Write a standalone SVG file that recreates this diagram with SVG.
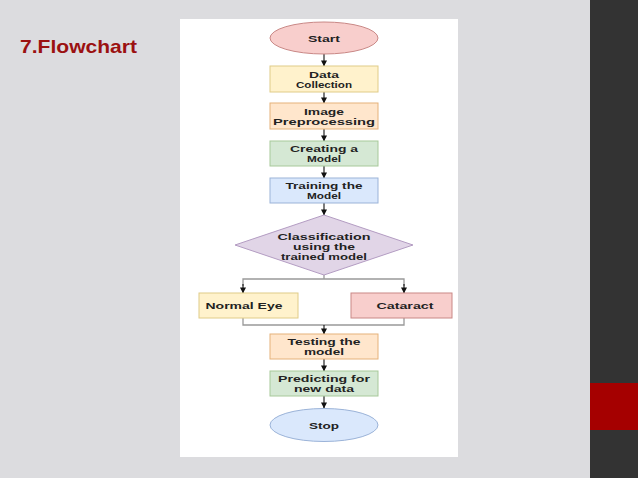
<svg xmlns="http://www.w3.org/2000/svg" width="638" height="478" viewBox="0 0 638 478">
<defs>
<marker id="ah" viewBox="0 0 8 8" refX="7.5" refY="4" markerWidth="6" markerHeight="6" markerUnits="userSpaceOnUse" orient="auto">
<path d="M0,0 L8,4 L0,8 z" fill="#111"/>
</marker>
</defs>
<style>
.t{font-family:"Liberation Sans",Arial,sans-serif;font-weight:bold;font-size:9.5px;fill:#222;text-anchor:middle}
.c{fill:none;stroke:#111;stroke-width:1.1}
.g{fill:none;stroke:#999;stroke-width:1.3}
</style>
<rect x="0" y="0" width="638" height="478" fill="#dcdcdf"/>
<rect x="590" y="0" width="48" height="478" fill="#333333"/>
<rect x="590" y="383" width="48" height="47" fill="#a50000"/>
<rect x="180" y="19" width="278" height="438" fill="#ffffff"/>
<text x="20" y="53" font-family="Liberation Sans,Arial,sans-serif" font-weight="bold" font-size="19" fill="#9b1111" textLength="117" lengthAdjust="spacingAndGlyphs">7.Flowchart</text>
<g id="connectors">
<line class="c" x1="324" y1="54" x2="324" y2="66" marker-end="url(#ah)"/>
<line class="c" x1="324" y1="92" x2="324" y2="103" marker-end="url(#ah)"/>
<line class="c" x1="324" y1="129" x2="324" y2="141" marker-end="url(#ah)"/>
<line class="c" x1="324" y1="166" x2="324" y2="178" marker-end="url(#ah)"/>
<line class="c" x1="324" y1="203" x2="324" y2="215" marker-end="url(#ah)"/>
<polyline class="g" points="324,275 324,279"/>
<polyline class="g" points="243,286 243,279 404,279 404,286"/>
<line class="c" x1="243" y1="284" x2="243" y2="293" marker-end="url(#ah)"/>
<line class="c" x1="404" y1="284" x2="404" y2="293" marker-end="url(#ah)"/>
<polyline class="g" points="243,318 243,325 404,325 404,318"/>
<line class="c" x1="324" y1="325" x2="324" y2="334" marker-end="url(#ah)"/>
<line class="c" x1="324" y1="359" x2="324" y2="371" marker-end="url(#ah)"/>
<line class="c" x1="324" y1="396" x2="324" y2="408" marker-end="url(#ah)"/>
</g>
<g id="start">
<ellipse cx="324" cy="38" rx="54" ry="16" fill="#f8cecc" stroke="#c98886" stroke-width="1"/>
<text class="t" x="324" y="41.5" textLength="32" lengthAdjust="spacingAndGlyphs">Start</text>
</g>
<g id="data-collection">
<rect x="270" y="66" width="108" height="26" fill="#fff2cc" stroke="#e0cc88"/>
<text class="t" x="324" y="77.5" textLength="30" lengthAdjust="spacingAndGlyphs">Data</text>
<text class="t" x="324" y="87.5" textLength="56" lengthAdjust="spacingAndGlyphs">Collection</text>
</g>
<g id="image-preprocessing">
<rect x="270" y="103" width="108" height="26" fill="#ffe6cc" stroke="#e5b27a"/>
<text class="t" x="324" y="114.5" textLength="40" lengthAdjust="spacingAndGlyphs">Image</text>
<text class="t" x="324" y="124.5" textLength="102" lengthAdjust="spacingAndGlyphs">Preprocessing</text>
</g>
<g id="creating-model">
<rect x="270" y="141" width="108" height="25" fill="#d5e8d4" stroke="#a7c99a"/>
<text class="t" x="324" y="152" textLength="68" lengthAdjust="spacingAndGlyphs">Creating a</text>
<text class="t" x="324" y="162" textLength="34" lengthAdjust="spacingAndGlyphs">Model</text>
</g>
<g id="training-model">
<rect x="270" y="178" width="108" height="25" fill="#dae8fc" stroke="#9bb3d8"/>
<text class="t" x="324" y="189" textLength="77" lengthAdjust="spacingAndGlyphs">Training the</text>
<text class="t" x="324" y="199" textLength="34" lengthAdjust="spacingAndGlyphs">Model</text>
</g>
<g id="classification">
<polygon points="324,215 413,245 324,275 235,245" fill="#e1d5e7" stroke="#b39cc2"/>
<text class="t" x="324" y="240" textLength="93" lengthAdjust="spacingAndGlyphs">Classification</text>
<text class="t" x="324" y="250" textLength="62" lengthAdjust="spacingAndGlyphs">using the</text>
<text class="t" x="324" y="260" textLength="86" lengthAdjust="spacingAndGlyphs">trained model</text>
</g>
<g id="normal-eye">
<rect x="199" y="293" width="99" height="25" fill="#fff2cc" stroke="#e0cc88"/>
<text class="t" x="244" y="308.5" textLength="77" lengthAdjust="spacingAndGlyphs">Normal Eye</text>
</g>
<g id="cataract">
<rect x="351" y="293" width="101" height="25" fill="#f8cecc" stroke="#c98886"/>
<text class="t" x="405" y="308.5" textLength="57" lengthAdjust="spacingAndGlyphs">Cataract</text>
</g>
<g id="testing-model">
<rect x="270" y="334" width="108" height="25" fill="#ffe6cc" stroke="#e5b27a"/>
<text class="t" x="324" y="345" textLength="73" lengthAdjust="spacingAndGlyphs">Testing the</text>
<text class="t" x="324" y="355" textLength="40" lengthAdjust="spacingAndGlyphs">model</text>
</g>
<g id="predicting">
<rect x="270" y="371" width="108" height="25" fill="#d5e8d4" stroke="#a7c99a"/>
<text class="t" x="324" y="382" textLength="92" lengthAdjust="spacingAndGlyphs">Predicting for</text>
<text class="t" x="324" y="392" textLength="60" lengthAdjust="spacingAndGlyphs">new data</text>
</g>
<g id="stop">
<ellipse cx="324" cy="425" rx="54" ry="16.5" fill="#dae8fc" stroke="#9bb3d8" stroke-width="1"/>
<text class="t" x="324" y="428.5" textLength="30" lengthAdjust="spacingAndGlyphs">Stop</text>
</g>
</svg>
